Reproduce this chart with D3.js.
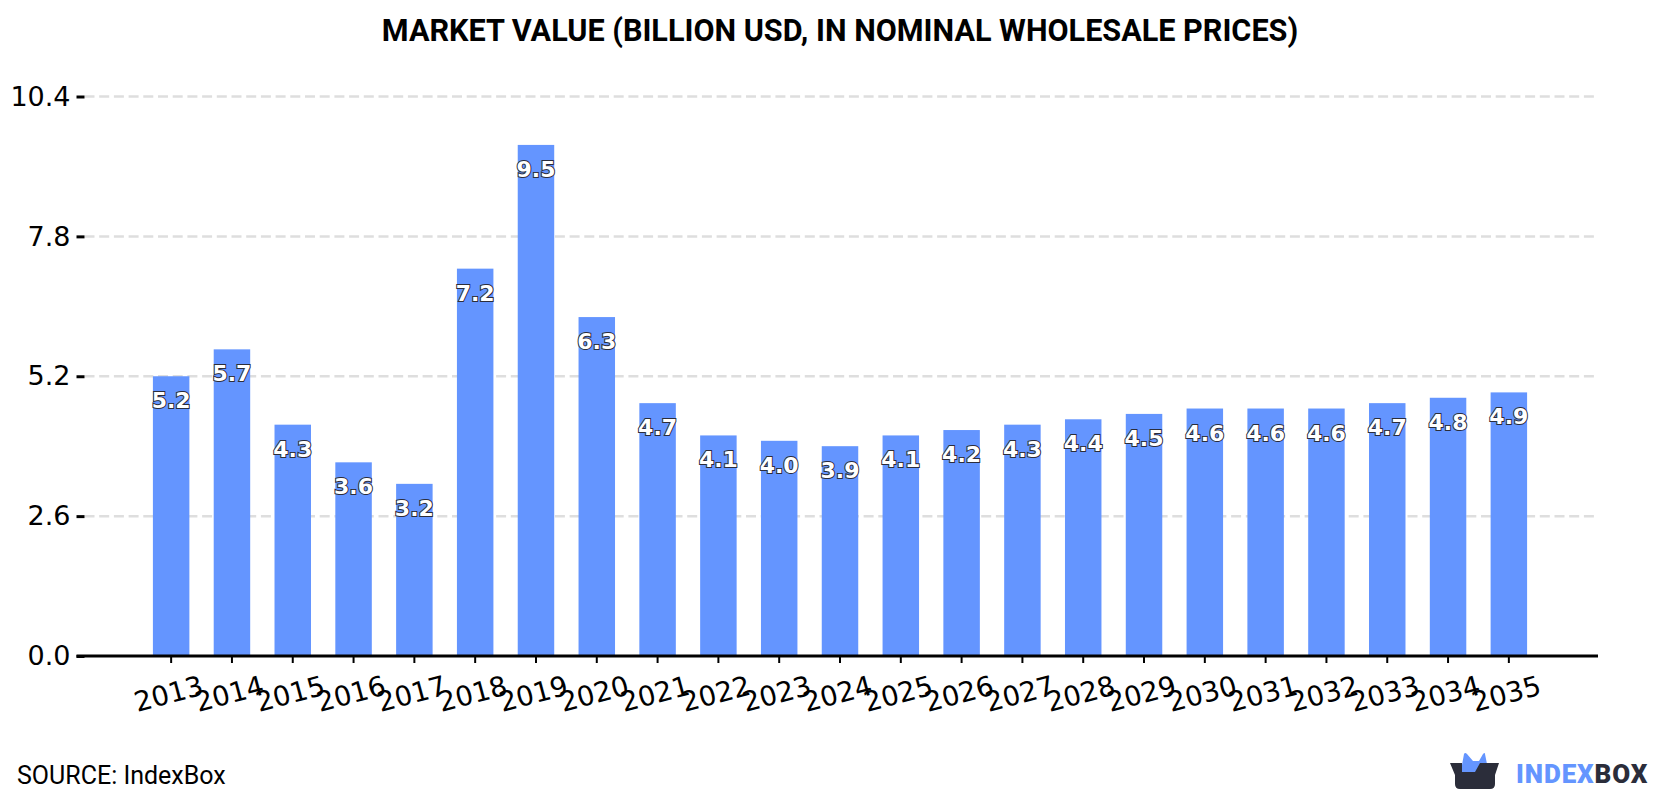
<!DOCTYPE html>
<html>
<head>
<meta charset="utf-8">
<script src="https://cdnjs.cloudflare.com/ajax/libs/d3/7.8.5/d3.min.js"></script>
<style>
  html, body { margin: 0; padding: 0; background: #fff; }
  svg { display: block; }
  .tick-text { font-family: "DejaVu Sans", sans-serif; font-size: 27px; fill: #000; }
  .year-text { font-size: 27.5px; }
  .value-label {
    font-family: "DejaVu Sans", sans-serif; font-size: 22px; font-weight: 700;
    fill: #fff; stroke: #2b2d3a; stroke-width: 2px; paint-order: stroke;
    text-anchor: middle;
  }
</style>
</head>
<body>
<svg id="chart" width="1680" height="800"></svg>
<script>
const years = ["2013","2014","2015","2016","2017","2018","2019","2020","2021","2022","2023","2024",
               "2025","2026","2027","2028","2029","2030","2031","2032","2033","2034","2035"];
const marketValue = [5.2,5.7,4.3,3.6,3.2,7.2,9.5,6.3,4.7,4.1,4.0,3.9,
                     4.1,4.2,4.3,4.4,4.5,4.6,4.6,4.6,4.7,4.8,4.9];
const yTicks = [0, 2.6, 5.2, 7.8, 10.4];
const chartTitle = "MARKET VALUE (BILLION USD, IN NOMINAL WHOLESALE PRICES)";
const sourceNote = "SOURCE: IndexBox";

const svg = d3.select("#chart");
const plot = { left: 84.5, right: 1595.5, gridEnd: 1598, top: 96.5, bottom: 656 };

const x = d3.scaleBand().domain(years).range([plot.left, plot.right])
  .paddingInner(0.4).paddingOuter(1.125);
const y = d3.scaleLinear().domain([0, 10.4]).range([plot.bottom, plot.top]);

svg.append("text")
  .attr("x", 840).attr("y", 41).attr("text-anchor", "middle")
  .style("font-family", "Roboto, sans-serif").style("font-size", "30.6px").style("font-weight", 700)
  .text(chartTitle);

// Dashed horizontal guides above the baseline
svg.append("g").selectAll("line")
  .data(yTicks.filter(d => d > 0))
  .join("line")
  .attr("x1", plot.left).attr("x2", plot.gridEnd)
  .attr("y1", d => y(d)).attr("y2", d => y(d))
  .attr("stroke", "#dedede").attr("stroke-width", 2.5).attr("stroke-dasharray", "10,4.7");

svg.append("g").selectAll("rect")
  .data(years.map((year, i) => ({ year, value: marketValue[i] })))
  .join("rect")
  .attr("x", d => x(d.year)).attr("width", x.bandwidth())
  .attr("y", d => y(d.value)).attr("height", d => y(0) - y(d.value))
  .attr("fill", "#6495ff");

// Value axis: ticks only, no spine
const yAxis = svg.append("g").attr("transform", `translate(${plot.left},0)`)
  .call(d3.axisLeft(y).tickValues(yTicks).tickFormat(d3.format(".1f")).tickSize(8).tickPadding(6));
yAxis.select(".domain").remove();
yAxis.selectAll("line").attr("stroke", "#000").attr("stroke-width", 3);
yAxis.selectAll("text").attr("class", "tick-text");

// Year axis with slanted labels
const xAxis = svg.append("g").attr("transform", `translate(0,${plot.bottom})`)
  .call(d3.axisBottom(x).tickSize(7).tickSizeOuter(0));
xAxis.select(".domain").remove();
xAxis.selectAll("line").attr("stroke", "#000").attr("stroke-width", 2);
xAxis.selectAll("text")
  .attr("class", "tick-text year-text")
  .attr("text-anchor", "middle")
  .attr("dy", null).attr("y", null)
  .attr("transform", "translate(0,47) rotate(-15)");

svg.append("line")
  .attr("x1", plot.left - 8).attr("x2", plot.gridEnd)
  .attr("y1", plot.bottom).attr("y2", plot.bottom)
  .attr("stroke", "#000").attr("stroke-width", 3);

svg.append("g").selectAll("text")
  .data(years.map((year, i) => ({ year, value: marketValue[i] })))
  .join("text")
  .attr("class", "value-label")
  .attr("x", d => x(d.year) + x.bandwidth() / 2)
  .attr("y", d => y(d.value) + 32)
  .text(d => d.value.toFixed(1));

svg.append("text")
  .attr("x", 17).attr("y", 784)
  .style("font-family", "Roboto, sans-serif").style("font-size", "25px")
  .text(sourceNote);

// IndexBox mark: blue ears rising out of a dark open box
const logo = svg.append("g").attr("transform", "translate(1450,753)");
logo.append("path").attr("fill", "#6495ff")
  .attr("d", "M12,12 L14,1 Q15,-1 17,1 L23,8 H29 L33,1 Q35,-1 35,1 L37,11 L38,20 H12 Z");
logo.append("path").attr("fill", "#2b2d3a")
  .attr("d", "M0,10 H12 V19 H25 L30,10 H49 L45,22 V31 Q45,36 40,36 H10 Q5,36 5,31 V22 Z");
svg.append("text")
  .attr("x", 1516).attr("y", 782.5)
  .style("font-family", "Roboto, sans-serif").style("font-size", "26px").style("font-weight", 900)
  .style("letter-spacing", "0.9px")
  .call(t => {
    t.append("tspan").attr("fill", "#6495ff").text("INDEX");
    t.append("tspan").attr("fill", "#2b2d3a").text("BOX");
  });
</script>
</body>
</html>
